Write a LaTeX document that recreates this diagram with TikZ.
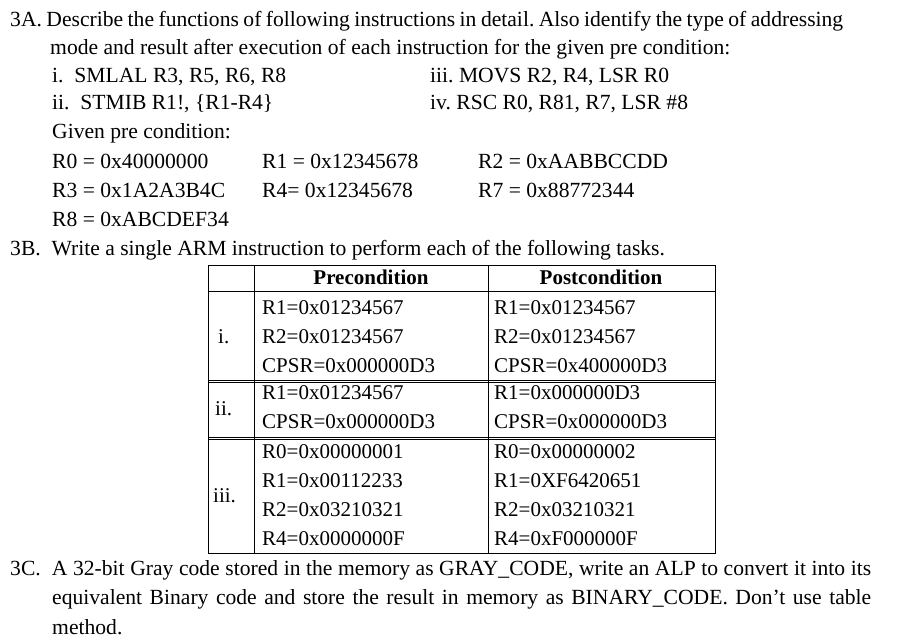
\documentclass[tikz,border=0pt]{standalone}
\usepackage{fontspec}
\setmainfont{Liberation Serif}
\frenchspacing
\begin{document}
\begin{tikzpicture}[x=1pt,y=-1pt,
  t/.style={anchor=base west,inner sep=0pt,font=\fontsize{21.6}{25}\selectfont},
  tt/.style={anchor=base west,inner sep=0pt,font=\fontsize{21}{25}\selectfont},
  tb/.style={tt,font=\fontsize{21}{25}\selectfont\bfseries},
  grid/.style={line width=0.8pt}]
\useasboundingbox[fill=white] (0,0) rectangle (903,642);
% 3A
\node[t] (a1) at (10,27) {\makebox[833pt][s]{3A. Describe the functions of following instructions in detail. Also identify the type of addressing}};
\node[t] (a2) at (50,55) {mode and result after execution of each instruction for the given pre condition:};
\node[t] (i1) at (52,83) {i.\ \ SMLAL R3, R5, R6, R8};
\node[t] (i3) at (430,83) {iii.\ MOVS R2, R4, LSR R0};
\node[t] (i2) at (52,110) {ii.\ \ STMIB R1!, \{R1-R4\}};
\node[t] (i4) at (430,110) {iv.\ RSC R0, R81, R7, LSR \#8};
\node[t] (g) at (52,139) {Given pre condition:};
\node[t] (r0) at (52,168) {R0 = 0x40000000};
\node[t] (r1) at (262,168) {R1 = 0x12345678};
\node[t] (r2) at (478,168) {R2 = 0xAABBCCDD};
\node[t] (r3) at (52,197) {R3 = 0x1A2A3B4C};
\node[t] (r4) at (262,197) {R4= 0x12345678};
\node[t] (r7) at (478,197) {R7 = 0x88772344};
\node[t] (r8) at (52,226) {R8 = 0xABCDEF34};
% 3B
\node[t] (b1) at (10,255) {3B.\ \ Write a single ARM instruction to perform each of the following tasks.};
% table
\draw[grid] (208,265) rectangle (715,553);
\draw[grid] (254,265) -- (254,553);
\draw[grid] (488,265) -- (488,553);
\draw[grid] (208,291) -- (715,291);
\draw[grid] (208,380) -- (715,380);
\draw[grid] (208,382) -- (715,382);
\draw[grid] (208,437) -- (715,437);
\draw[grid] (208,439) -- (715,439);
\node[tb,anchor=base] (h1) at (371,284) {Precondition};
\node[tb,anchor=base] (h2) at (601,284) {Postcondition};
\node[tt] (ri) at (218,343) {i.};
\node[tt] (p1) at (262,314) {R1=0x01234567};
\node[tt] (p2) at (262,343) {R2=0x01234567};
\node[tt] (p3) at (262,372) {CPSR=0x000000D3};
\node[tt] (q1) at (494,314) {R1=0x01234567};
\node[tt] (q2) at (494,343) {R2=0x01234567};
\node[tt] (q3) at (494,372) {CPSR=0x400000D3};
\node[tt] (rii) at (215,415) {ii.};
\node[tt] (p4) at (262,399) {R1=0x01234567};
\node[tt] (p5) at (262,428) {CPSR=0x000000D3};
\node[tt] (q4) at (494,399) {R1=0x000000D3};
\node[tt] (q5) at (494,428) {CPSR=0x000000D3};
\node[tt] (riii) at (213,502) {iii.};
\node[tt] (p6) at (262,458) {R0=0x00000001};
\node[tt] (p7) at (262,487) {R1=0x00112233};
\node[tt] (p8) at (262,516) {R2=0x03210321};
\node[tt] (p9) at (262,545) {R4=0x0000000F};
\node[tt] (q6) at (494,458) {R0=0x00000002};
\node[tt] (q7) at (494,487) {R1=0XF6420651};
\node[tt] (q8) at (494,516) {R2=0x03210321};
\node[tt] (q9) at (494,545) {R4=0xF000000F};
% 3C
\node[t] (c1) at (10,575) {\makebox[861pt][s]{3C.\ \ A 32-bit Gray code stored in the memory as GRAY\_CODE, write an ALP to convert it into its}};
\node[t] (c2) at (52,604) {\makebox[819pt][s]{equivalent Binary code and store the result in memory as BINARY\_CODE. Don’t use table}};
\node[t] (c3) at (52,634) {method.};
\end{tikzpicture}
\end{document}
